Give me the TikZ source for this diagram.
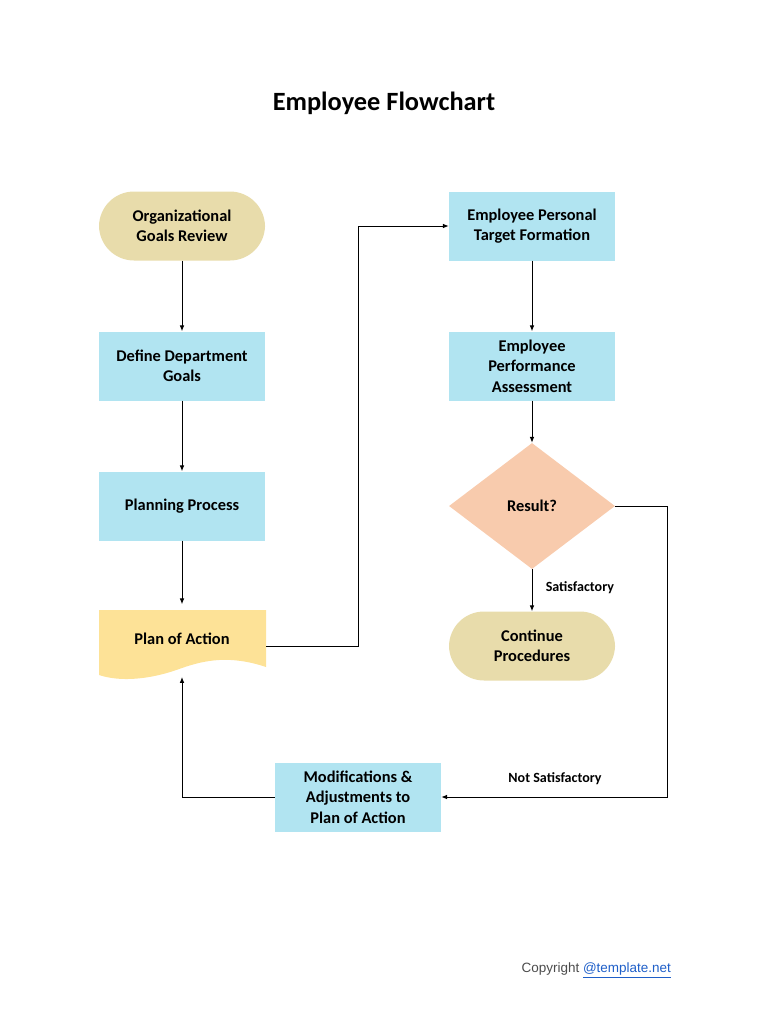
\documentclass[tikz,border=0pt]{standalone}
\usepackage{fontspec}
\setmainfont{Carlito}
\newfontfamily\copyfont{Liberation Sans}
\usetikzlibrary{shapes.geometric,arrows.meta}
\definecolor{tanfill}{HTML}{E8DCAB}
\definecolor{bluefill}{HTML}{B1E4F1}
\definecolor{yellowfill}{HTML}{FDE297}
\definecolor{peachfill}{HTML}{F8CBAD}
\definecolor{linkblue}{HTML}{1F5FC8}
\begin{document}
\begin{tikzpicture}[x=0.03cm,y=-0.03cm,
    box/.style={rectangle,fill=bluefill,minimum width=166*0.03cm,minimum height=69*0.03cm,
        align=center,font=\fontsize{14}{17.5}\selectfont\bfseries,inner sep=2pt},
    term/.style={box,fill=tanfill,rounded corners=35*0.03cm},
    dec/.style={diamond,fill=peachfill,minimum width=166*0.03cm,minimum height=126*0.03cm,
        aspect=1.32,inner sep=0pt,font=\fontsize{14}{17.5}\selectfont\bfseries},
    lbl/.style={font=\fontsize{12}{14}\selectfont\bfseries},
    conn/.style={line width=0.8pt,-{Latex[length=5pt,width=4pt]}}]
\useasboundingbox (0,0) rectangle (768,1024);
\node[font=\fontsize{22.5}{26}\selectfont\bfseries] (title) at (384,103) {Employee Flowchart};

\node[term] (org) at (182,226) {Organizational\\Goals Review};
\node[box] (dept) at (182,366) {Define Department\\Goals};
\node[box] (plan) at (182,506) {Planning Process};
% document shape
\fill[yellowfill] (99,610) -- (266,610) -- (266,667)
    .. controls (230,655) and (205,660) .. (182,668)
    .. controls (150,680) and (120,682) .. (99,675) -- cycle;
\node[box,fill=none] (action) at (182,639) {Plan of Action};
\coordinate (actionbot) at (182,677);
\coordinate (actionright) at (266,646);

\node[box] (pers) at (532,226) {Employee Personal\\Target Formation};
\node[box] (perf) at (532,366) {Employee\\Performance\\Assessment};
\node[dec] (res) at (532,506) {Result?};
\node[term] (cont) at (532,646) {Continue\\Procedures};
\node[box] (mod) at (358,797) {Modifications \&\\Adjustments to\\Plan of Action};

\draw[conn] (org) -- (dept);
\draw[conn] (dept) -- (plan);
\draw[conn] (plan) -- (action.north);
\draw[conn] (actionright) -- (358,646) |- (pers.west);
\draw[conn] (pers) -- (perf);
\draw[conn] (perf) -- (res.north);
\draw[conn] (res.south) -- node[lbl,right=8pt,pos=0.45] (sat) {Satisfactory} (cont);
\draw[conn] (res.east) -- (667,506) |- (mod.east);
\node[lbl] (notsat) at (555,779) {Not Satisfactory};
\draw[conn] (mod.west) -| (actionbot);

\node[anchor=east,font=\fontsize{11.5}{14}\selectfont\copyfont,text=black!70] (copy) at (675,970)
  {Copyright \textcolor{linkblue}{\underline{@template.net}}};
\end{tikzpicture}
\end{document}
